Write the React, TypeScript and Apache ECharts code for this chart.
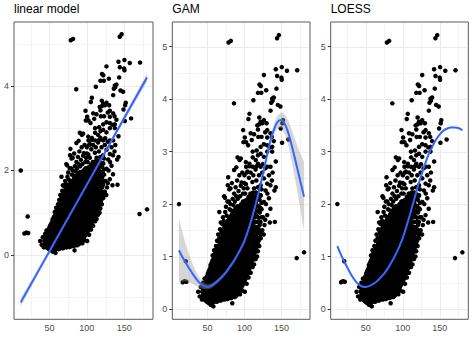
import React, { useEffect, useRef } from "react";
import * as echarts from "echarts";

const FONT = "Liberation Sans, Arial, Helvetica, sans-serif";

const panelTitles = ["linear model", "GAM", "LOESS"];
const xTicks = [50, 100, 150];
const xMinor = [25, 75, 125, 175];
const yTicksLm = [0, 2, 4];
const yMinorLm = [-1, 1, 3, 5];
const yTicks = [0, 1, 2, 3, 4, 5];
const yMinor = [0.5, 1.5, 2.5, 3.5, 4.5];

// dense core of the cloud: [x, list of y]
const coreColumns: [number, number[]][] = [
  [43, [0.24, 0.33]],
  [45.5, [0.2, 0.3, 0.41]],
  [48, [0.16, 0.26, 0.36, 0.47, 0.57]],
  [50.5, [0.13, 0.22, 0.31, 0.41, 0.51, 0.6, 0.68]],
  [53, [0.11, 0.19, 0.28, 0.37, 0.47, 0.56, 0.66, 0.76]],
  [55.5, [0.1, 0.16, 0.24, 0.33, 0.42, 0.52, 0.61, 0.71, 0.8, 0.88]],
  [58, [0.13, 0.21, 0.3, 0.39, 0.48, 0.57, 0.67, 0.76, 0.86, 0.95]],
  [60.5, [0.16, 0.25, 0.35, 0.44, 0.53, 0.63, 0.72, 0.82, 0.91, 1.0, 1.06]],
  [63, [0.14, 0.22, 0.31, 0.4, 0.49, 0.59, 0.68, 0.78, 0.87, 0.97, 1.06, 1.14]],
  [65.5, [0.18, 0.27, 0.36, 0.45, 0.55, 0.64, 0.74, 0.83, 0.93, 1.02, 1.12, 1.21]],
  [68, [0.16, 0.24, 0.33, 0.42, 0.51, 0.6, 0.7, 0.79, 0.89, 0.98, 1.08, 1.17, 1.27, 1.34]],
  [70.5, [0.2, 0.29, 0.38, 0.47, 0.56, 0.66, 0.75, 0.85, 0.94, 1.04, 1.13, 1.23, 1.32, 1.42]],
  [73, [0.18, 0.26, 0.35, 0.44, 0.53, 0.62, 0.72, 0.81, 0.91, 1.0, 1.1, 1.19, 1.29, 1.38, 1.48, 1.56]],
  [75.5, [0.22, 0.31, 0.4, 0.49, 0.58, 0.68, 0.77, 0.87, 0.96, 1.06, 1.15, 1.25, 1.34, 1.44, 1.53, 1.62]],
  [78, [0.2, 0.28, 0.37, 0.46, 0.55, 0.64, 0.74, 0.83, 0.93, 1.02, 1.12, 1.21, 1.31, 1.4, 1.5, 1.59, 1.69]],
  [80.5, [0.24, 0.33, 0.42, 0.51, 0.6, 0.7, 0.79, 0.89, 0.98, 1.08, 1.17, 1.27, 1.36, 1.46, 1.55, 1.65, 1.74]],
  [83, [0.22, 0.3, 0.39, 0.48, 0.57, 0.66, 0.76, 0.85, 0.95, 1.04, 1.14, 1.23, 1.33, 1.42, 1.52, 1.61, 1.71, 1.8]],
  [85.5, [0.26, 0.35, 0.44, 0.53, 0.62, 0.72, 0.81, 0.91, 1.0, 1.1, 1.19, 1.29, 1.38, 1.48, 1.57, 1.67, 1.76, 1.86]],
  [88, [0.24, 0.32, 0.41, 0.5, 0.59, 0.68, 0.78, 0.87, 0.97, 1.06, 1.16, 1.25, 1.35, 1.44, 1.54, 1.63, 1.73, 1.82, 1.92]],
  [90.5, [0.28, 0.37, 0.46, 0.55, 0.64, 0.74, 0.83, 0.93, 1.02, 1.12, 1.21, 1.31, 1.4, 1.5, 1.59, 1.69, 1.78, 1.88, 1.96]],
  [93, [0.33, 0.42, 0.51, 0.6, 0.7, 0.79, 0.89, 0.98, 1.08, 1.17, 1.27, 1.36, 1.46, 1.55, 1.65, 1.74, 1.84, 1.95]],
  [95.5, [0.4, 0.49, 0.58, 0.67, 0.76, 0.86, 0.95, 1.05, 1.14, 1.24, 1.33, 1.43, 1.52, 1.62, 1.71, 1.81, 1.9, 2.0]],
  [98, [0.47, 0.55, 0.64, 0.73, 0.83, 0.92, 1.02, 1.11, 1.21, 1.3, 1.4, 1.49, 1.59, 1.68, 1.78, 1.87, 1.97, 2.05]],
  [100.5, [0.55, 0.64, 0.73, 0.82, 0.91, 1.01, 1.1, 1.2, 1.29, 1.39, 1.48, 1.58, 1.67, 1.77, 1.86, 1.96, 2.06]],
  [103, [0.62, 0.71, 0.8, 0.9, 0.99, 1.09, 1.18, 1.28, 1.37, 1.47, 1.56, 1.66, 1.75, 1.85, 1.95, 2.08]],
  [105.5, [0.72, 0.83, 0.95, 1.06, 1.18, 1.3, 1.41, 1.53, 1.65, 1.77, 1.9, 2.02, 2.14]],
  [108, [0.82, 0.94, 1.06, 1.18, 1.3, 1.43, 1.55, 1.68, 1.8, 1.93, 2.06, 2.2]],
  [110.5, [0.92, 1.05, 1.19, 1.33, 1.47, 1.61, 1.75, 1.9, 2.04, 2.18]],
  [113, [1.02, 1.18, 1.34, 1.5, 1.66, 1.82, 1.98, 2.14, 2.3]],
  [115.5, [1.12, 1.3, 1.48, 1.66, 1.85, 2.04, 2.22]],
  [118, [1.24, 1.45, 1.66, 1.88, 2.1, 2.32]],
  [120.5, [1.36, 1.6, 1.84, 2.08, 2.3]],
  [123, [1.48, 1.75, 2.02, 2.28]],
];

// second, interleaved set of core columns
const coreColumnsB: [number, number[]][] = [
  [44.2, [0.27, 0.38]],
  [46.7, [0.17, 0.25, 0.35, 0.46]],
  [49.2, [0.14, 0.21, 0.31, 0.41, 0.52, 0.62]],
  [51.7, [0.12, 0.17, 0.26, 0.36, 0.46, 0.55, 0.64, 0.72]],
  [54.2, [0.08, 0.15, 0.23, 0.32, 0.42, 0.51, 0.61, 0.7, 0.8, 0.84]],
  [56.7, [0.12, 0.2, 0.28, 0.37, 0.47, 0.56, 0.66, 0.75, 0.84, 0.92]],
  [59.2, [0.15, 0.25, 0.34, 0.43, 0.52, 0.62, 0.71, 0.81, 0.9, 0.99, 1.04]],
  [61.7, [0.14, 0.2, 0.3, 0.39, 0.48, 0.58, 0.67, 0.77, 0.86, 0.95, 1.03, 1.1]],
  [64.2, [0.16, 0.26, 0.35, 0.44, 0.54, 0.63, 0.73, 0.82, 0.92, 1.01, 1.1, 1.18]],
  [66.7, [0.17, 0.22, 0.31, 0.4, 0.5, 0.59, 0.69, 0.78, 0.88, 0.97, 1.07, 1.16, 1.25]],
  [69.2, [0.18, 0.25, 0.34, 0.43, 0.52, 0.61, 0.71, 0.8, 0.9, 0.99, 1.09, 1.18, 1.28, 1.37, 1.45]],
  [71.7, [0.19, 0.24, 0.33, 0.42, 0.51, 0.61, 0.7, 0.8, 0.89, 0.99, 1.08, 1.18, 1.27, 1.37, 1.46, 1.52]],
  [74.2, [0.2, 0.3, 0.39, 0.48, 0.58, 0.67, 0.77, 0.86, 0.96, 1.05, 1.15, 1.24, 1.34, 1.43, 1.52, 1.6]],
  [76.7, [0.19, 0.26, 0.35, 0.44, 0.53, 0.63, 0.72, 0.82, 0.91, 1.01, 1.1, 1.2, 1.29, 1.39, 1.48, 1.57, 1.66]],
  [79.2, [0.23, 0.32, 0.41, 0.5, 0.6, 0.69, 0.79, 0.88, 0.98, 1.07, 1.17, 1.26, 1.36, 1.45, 1.55, 1.64, 1.72]],
  [81.7, [0.21, 0.28, 0.37, 0.46, 0.55, 0.65, 0.74, 0.84, 0.93, 1.03, 1.12, 1.22, 1.31, 1.41, 1.5, 1.6, 1.69, 1.77]],
  [84.2, [0.25, 0.34, 0.43, 0.52, 0.62, 0.71, 0.81, 0.9, 1.0, 1.09, 1.19, 1.28, 1.38, 1.47, 1.57, 1.66, 1.75, 1.83]],
  [86.7, [0.23, 0.3, 0.39, 0.48, 0.57, 0.67, 0.76, 0.86, 0.95, 1.05, 1.14, 1.24, 1.33, 1.43, 1.52, 1.62, 1.71, 1.8, 1.88]],
  [89.2, [0.26, 0.36, 0.45, 0.54, 0.64, 0.73, 0.83, 0.92, 1.02, 1.11, 1.21, 1.3, 1.4, 1.49, 1.59, 1.68, 1.78, 1.87]],
  [91.7, [0.3, 0.38, 0.47, 0.56, 0.65, 0.75, 0.84, 0.94, 1.03, 1.13, 1.22, 1.32, 1.41, 1.51, 1.6, 1.7, 1.8, 1.9]],
  [94.2, [0.37, 0.46, 0.55, 0.63, 0.72, 0.82, 0.91, 1.01, 1.1, 1.2, 1.29, 1.39, 1.48, 1.58, 1.67, 1.77, 1.86, 1.96]],
  [96.7, [0.44, 0.53, 0.62, 0.71, 0.8, 0.9, 0.99, 1.09, 1.18, 1.28, 1.37, 1.47, 1.56, 1.66, 1.75, 1.85, 1.94]],
  [99.2, [0.51, 0.6, 0.69, 0.78, 0.87, 0.97, 1.06, 1.16, 1.25, 1.35, 1.44, 1.54, 1.63, 1.73, 1.82, 1.92, 2.01]],
  [101.7, [0.58, 0.68, 0.77, 0.86, 0.95, 1.05, 1.14, 1.24, 1.33, 1.43, 1.52, 1.62, 1.71, 1.81, 1.9, 2.0]],
  [104.2, [0.67, 0.77, 0.88, 1.0, 1.12, 1.24, 1.36, 1.47, 1.59, 1.71, 1.83, 1.96, 2.08]],
  [106.7, [0.77, 0.88, 1.0, 1.12, 1.24, 1.37, 1.49, 1.61, 1.74, 1.86, 1.99, 2.12]],
  [109.2, [0.87, 1.0, 1.12, 1.26, 1.4, 1.54, 1.68, 1.82, 1.97, 2.11]],
  [111.7, [0.97, 1.11, 1.26, 1.42, 1.58, 1.74, 1.9, 2.06, 2.22]],
  [114.2, [1.08, 1.24, 1.4, 1.57, 1.75, 1.93, 2.12]],
  [116.7, [1.18, 1.37, 1.56, 1.77, 1.98, 2.2]],
  [119.2, [1.3, 1.52, 1.74, 1.96, 2.18]],
  [121.7, [1.42, 1.66, 1.92, 2.16]],
];

// scattered points outside the dense core
const sparsePoints: [number, number][] = [
  [11.5, 2.0], [16.5, 0.51], [19, 0.53], [21.5, 0.52], [20.8, 0.91], [78.5, 5.08], [81.5, 5.11],
  [144, 5.16], [146.5, 5.22], [85.8, 3.92], [170.5, 0.97], [180.5, 1.08], [58, 0.05], [83.5, 0.11],
  [100.4, 0.33], [108.4, 0.69],
  [37.5, 0.33], [39.5, 0.24], [41, 0.42], [42.5, 0.18], [44, 0.5], [46, 0.58],
  [142.3, 4.57], [150.3, 4.61], [157.4, 4.54], [171.2, 4.55], [144.1, 4.44], [149.9, 4.41], [150.3, 4.37],
  [126.2, 4.46], [120.3, 4.28], [122, 4.25], [143.2, 4.2], [118.2, 4.12], [122.7, 4.12], [129.4, 4.17],
  [112, 3.98], [137.4, 4.01], [137.9, 3.97], [136.1, 3.93], [139.6, 4.03], [145, 3.89], [148.5, 3.86],
  [135.2, 3.78], [106.7, 3.72], [105.3, 3.62], [120, 3.65], [152, 3.6], [151.2, 3.54], [149, 3.44],
  [120, 3.52], [117.3, 3.5], [124, 3.54], [129.8, 3.54], [121.8, 3.57], [126.2, 3.6], [108.4, 3.35],
  [112.9, 3.33], [118.2, 3.42], [128, 3.37], [130.7, 3.41], [98.2, 3.41], [118.7, 3.28], [123, 3.28],
  [130.7, 3.27], [135.2, 3.35], [137, 3.28], [139.6, 3.2], [100.4, 3.27], [109.8, 3.22], [102.2, 3.18],
  [104.9, 3.12], [98.6, 3.18], [121.8, 3.09], [126.2, 3.14], [130.7, 3.12], [134.3, 3.08], [130.7, 3.0],
  [137.4, 3.09], [137.4, 3.0], [111, 3.0], [116.4, 3.02], [118.2, 2.93], [121.8, 2.96], [126.2, 2.9],
  [142.3, 2.81], [90.6, 2.89], [95, 2.87], [93.3, 2.84], [101.8, 2.8], [106.7, 2.77], [111.1, 2.89],
  [115.1, 2.84], [118.2, 2.77], [102.2, 2.71], [106.7, 2.72], [111.1, 2.71], [116.4, 2.72], [121.8, 2.71],
  [124.5, 2.76], [130.7, 2.71], [135.1, 2.71], [150.8, 3.17], [159.2, 3.23],
  [104, 2.62], [108.4, 2.6], [115, 2.66], [119.6, 2.55], [124, 2.6], [126.3, 2.49], [130.7, 2.39],
  [135, 2.36], [142.3, 2.32], [140.5, 2.26], [128.5, 2.26], [121.8, 2.17], [117.3, 2.11], [126.3, 2.04],
  [133, 2.11], [135, 1.91], [130.7, 1.79], [141, 1.66], [134.2, 1.65], [121.8, 2.36], [110.7, 2.42],
  [104, 2.3], [106, 2.5], [112, 2.55], [116, 2.45], [100, 2.4], [98, 2.2], [123, 1.9], [125, 1.75],
  [127, 1.6], [129, 2.0], [131, 2.2], [137, 2.45], [133, 2.55], [128, 2.68], [138, 2.6],
  [118, 1.1], [120, 1.2], [122, 1.35], [124, 1.5], [126, 1.42], [128, 1.7], [117, 1.0], [115, 0.95],
  [113, 0.85], [111, 0.8], [105.5, 0.6], [103, 0.48], [97, 0.35], [94, 0.28],
  [57, 1.02], [59, 1.12], [61.5, 1.2], [63, 1.3], [64.5, 1.42], [66, 1.35], [67, 1.52], [69, 1.48],
  [70, 1.62], [71, 1.75], [72, 1.68], [73.7, 2.12], [74, 1.85], [75, 1.95], [76, 1.78], [77, 2.05],
  [78, 2.51], [79.5, 2.28], [80, 1.9], [81, 2.0], [82, 1.88], [84, 2.1], [85, 1.98], [86, 2.2],
  [87, 2.05], [88, 2.32], [89, 2.15], [90, 2.45], [91, 2.1], [92, 2.25], [93, 2.55], [94, 2.15],
  [95, 2.35], [96, 2.41], [97, 2.6], [99, 2.3], [100, 2.55], [101, 2.2], [102, 2.38], [103, 2.6],
  [83, 2.4], [86, 2.65], [89, 2.7], [81, 2.3], [79, 2.05], [68, 1.65], [66, 1.85], [72.5, 2.15],
  [77.5, 2.36],
];

// linear model fit
const lmX = [11.5, 50, 90, 130, 180.5];
const lmY = [-1.12, 0.09, 1.35, 2.61, 4.2];
const lmSe = [0.1, 0.05, 0.035, 0.05, 0.1];

// smoothers
const smX = [11.5, 15, 20, 25, 30, 35, 40, 45, 50, 55, 60, 65, 70, 75, 80, 85, 90, 95, 100, 105, 110,
  115, 120, 125, 130, 135, 140, 145, 150, 155, 160, 165, 170, 175, 180.5];
const gamY = [1.12, 1.02, 0.9, 0.78, 0.67, 0.57, 0.49, 0.44, 0.42, 0.44, 0.49, 0.55, 0.62, 0.7, 0.8,
  0.9, 1.02, 1.15, 1.3, 1.5, 1.73, 1.99, 2.27, 2.58, 2.9, 3.2, 3.43, 3.57, 3.6, 3.51, 3.32, 3.05, 2.76,
  2.46, 2.14];
const gamSe = [0.6, 0.5, 0.37, 0.27, 0.19, 0.13, 0.09, 0.06, 0.05, 0.045, 0.04, 0.04, 0.04, 0.04, 0.04,
  0.04, 0.04, 0.04, 0.045, 0.05, 0.05, 0.05, 0.055, 0.06, 0.07, 0.08, 0.1, 0.12, 0.15, 0.19, 0.25, 0.32,
  0.41, 0.52, 0.66];
const loessY = [1.2, 1.08, 0.93, 0.79, 0.66, 0.55, 0.47, 0.43, 0.42, 0.44, 0.48, 0.53, 0.6, 0.68, 0.78,
  0.9, 1.03, 1.18, 1.36, 1.58, 1.82, 2.07, 2.32, 2.55, 2.76, 2.95, 3.1, 3.23, 3.33, 3.4, 3.44, 3.46, 3.46,
  3.45, 3.41];

const points: [number, number][] = [
  ...coreColumns.flatMap(([x, ys]) => ys.map((y) => [x, y] as [number, number])),
  ...coreColumnsB.flatMap(([x, ys]) => ys.map((y) => [x, y] as [number, number])),
  ...sparsePoints,
];

const panels = [
  { left: 14, width: 139, yMin: -1.52, yMax: 5.51, yMaj: yTicksLm, yMin2: yMinorLm, fitY: lmY, fitX: lmX, se: lmSe },
  { left: 172.3, width: 137.7, yMin: -0.196, yMax: 5.47, yMaj: yTicks, yMin2: yMinor, fitY: gamY, fitX: smX, se: gamSe },
  { left: 330.7, width: 137.6, yMin: -0.196, yMax: 5.47, yMaj: yTicks, yMin2: yMinor, fitY: loessY, fitX: smX, se: null as number[] | null },
];

function buildOption() {
  const grid: any[] = [];
  const xAxis: any[] = [];
  const yAxis: any[] = [];
  const series: any[] = [];
  const title: any[] = [];
  panels.forEach((p, i) => {
    grid.push({
      left: p.left, top: 22, width: p.width, height: 297.3,
      show: true, borderColor: "#5a5a5a", borderWidth: 1, backgroundColor: "#ffffff",
    });
    title.push({
      text: panelTitles[i], left: p.left, top: 3, padding: 0,
      textStyle: { fontFamily: FONT, fontSize: 12, fontWeight: "normal", color: "#000" },
    });
    const tickStyle = { show: true, length: 3, inside: false, lineStyle: { color: "#333333", width: 1 } };
    const labelStyle = { fontFamily: FONT, fontSize: 9, color: "#4d4d4d" };
    xAxis.push({
      type: "value", gridIndex: i, min: 2.5, max: 188.5,
      axisLine: { show: false }, splitLine: { show: false },
      axisTick: { ...tickStyle, customValues: xTicks },
      axisLabel: { ...labelStyle, margin: 4, customValues: xTicks },
    });
    yAxis.push({
      type: "value", gridIndex: i, min: p.yMin, max: p.yMax,
      axisLine: { show: false }, splitLine: { show: false },
      axisTick: { ...tickStyle, customValues: p.yMaj },
      axisLabel: { ...labelStyle, margin: 5, customValues: p.yMaj },
    });
    const gl: number[][] = [
      ...xTicks.map((v) => [v, 1, 0, 1]),
      ...xMinor.map((v) => [v, 1, 0, 0]),
      ...p.yMaj.map((v) => [100, v, 1, 1]),
      ...p.yMin2.map((v) => [100, v, 1, 0]),
    ];
    series.push({
      type: "custom", xAxisIndex: i, yAxisIndex: i, z: 1, silent: true,
      data: gl, encode: { x: 0, y: 1 },
      renderItem: (params: any, api: any) => {
        const cs = params.coordSys;
        const c = api.coord([api.value(0), api.value(1)]);
        const color = api.value(3) === 1 ? "#ebebeb" : "#f4f4f4";
        if (api.value(2) === 0) {
          const x = Math.round(c[0]) + 0.5;
          return { type: "line", shape: { x1: x, y1: cs.y + 1, x2: x, y2: cs.y + cs.height - 1 }, style: { stroke: color, lineWidth: 1 } };
        }
        const y = Math.round(c[1]) + 0.5;
        return { type: "line", shape: { x1: cs.x + 1, y1: y, x2: cs.x + cs.width - 1, y2: y }, style: { stroke: color, lineWidth: 1 } };
      },
    });
    series.push({
      type: "scatter", xAxisIndex: i, yAxisIndex: i, z: 2, silent: true,
      data: points, symbol: "circle", symbolSize: 4.5,
      itemStyle: { color: "#000000", opacity: 1 },
    });
    if (p.se) {
      const se = p.se;
      const fx = p.fitX;
      const fy = p.fitY;
      series.push({
        type: "custom", xAxisIndex: i, yAxisIndex: i, z: 3, silent: true,
        data: [[100, 1]], encode: { x: 0, y: 1 },
        renderItem: (_params: any, api: any) => {
          const upper = fx.map((x, k) => api.coord([x, fy[k] + se[k]]));
          const lower = fx.map((x, k) => api.coord([x, fy[k] - se[k]])).reverse();
          return { type: "polygon", shape: { points: [...upper, ...lower] }, style: { fill: "rgba(153,153,153,0.4)" } };
        },
      });
    }
    series.push({
      type: "line", xAxisIndex: i, yAxisIndex: i, z: 4, silent: true,
      data: p.fitX.map((x, k) => [x, p.fitY[k]]),
      showSymbol: false, smooth: 0.3,
      lineStyle: { color: "#3366FF", width: 2 },
    });
  });
  return { animation: false, backgroundColor: "#ffffff", title, grid, xAxis, yAxis, series };
}

export default function App() {
  const ref = useRef<HTMLDivElement>(null);
  useEffect(() => {
    if (!ref.current) return;
    const chart = echarts.init(ref.current, null, { renderer: "svg" });
    chart.setOption(buildOption() as any);
    return () => chart.dispose();
  }, []);
  return (
    <div
      ref={ref}
      style={{ position: "fixed", left: 0, top: 0, width: 474, height: 338, background: "#fff" }}
    />
  );
}
